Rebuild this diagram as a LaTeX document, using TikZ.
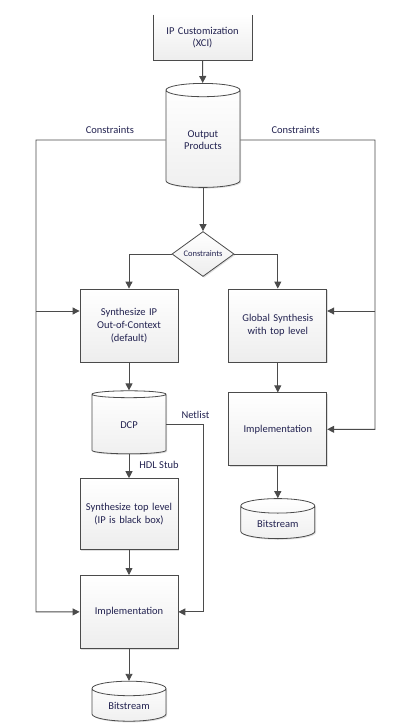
\documentclass[tikz,border=0pt]{standalone}
\usepackage{fontspec}
\setmainfont{Carlito}
\usetikzlibrary{arrows.meta, positioning, shapes.geometric, shadows}
\definecolor{txtblue}{RGB}{34,34,80}
\definecolor{edgegray}{RGB}{75,75,75}

\begin{document}
\begin{tikzpicture}[x=1pt, y=-1pt,
    font=\fontsize{10.5}{12.7}\selectfont, text=txtblue,
    process/.style={rectangle, draw=edgegray, line width=0.8pt,
                    top color=white, bottom color=gray!14,
                    minimum width=98pt, minimum height=73pt,
                    text width=92pt, align=center, inner sep=2pt,
                    drop shadow={opacity=0.25, shadow xshift=1.2pt, shadow yshift=-1.2pt}},
    store/.style={cylinder, shape border rotate=90, aspect=0.32,
                  draw=edgegray, line width=0.8pt,
                  top color=white, bottom color=gray!12,
                  minimum width=74pt, align=center, inner sep=2pt,
                  drop shadow={opacity=0.25, shadow xshift=1.2pt, shadow yshift=-1.2pt}},
    decision/.style={diamond, draw=edgegray, line width=0.8pt,
                     top color=white, bottom color=gray!14,
                     minimum width=62pt, minimum height=45pt, aspect=1.38,
                     inner sep=0pt, font=\fontsize{8.5}{10}\selectfont,
                     drop shadow={opacity=0.25, shadow xshift=1.2pt, shadow yshift=-1.2pt}},
    flow/.style={-{Triangle[length=7pt, width=7pt]}, draw=edgegray, line width=0.9pt},
    lbl/.style={inner sep=0pt}
]
\useasboundingbox (0,0) rectangle (409,723);

% Define nodes
\node[process, draw=none, minimum height=45pt] (ipc) at (202.5,37.5) {IP Customization\\(XCI)};
\draw[edgegray, line width=0.8pt] (ipc.north west) -- (ipc.south west) -- (ipc.south east) -- (ipc.north east);
\node[store, minimum height=104pt] (out) at (203,140) {Output\\Products};
\node[decision] (dia) at (203,254) {Constraints};

\node[process] (sip) at (129,325.5) {Synthesize IP\\Out-of-Context\\(default)};
\node[process, right=50pt of sip] (gs) {Global Synthesis\\with top level};
\node[process, below=30pt of gs] (impr) {Implementation};
\node[store, minimum height=40pt, below=32pt of impr] (bitr) {Bitstream};

\node[store, minimum height=63pt, below=28pt of sip] (dcp) {DCP};
\node[process, minimum height=71pt, below=24pt of dcp] (stl) {Synthesize top level\\(IP is black box)};
\node[process, below=25pt of stl] (impl) {Implementation};
\node[store, minimum height=40pt, below=32pt of impl] (bitl) {Bitstream};

% Side rails
\coordinate (lft) at (36,140);
\coordinate (rgt) at (375,140);
\coordinate (sipin) at ([yshift=14.5pt]sip.west);
\coordinate (gsin) at ([yshift=14.5pt]gs.east);

% Relations
\draw[flow] (ipc) -- (out);
\draw[flow] (out) -- (dia);
\draw[flow] (dia.west) -| (sip.north);
\draw[flow] (dia.east) -| (gs.north);
\draw[flow] (out.west) -- node[lbl, pos=0.43, above=6pt] {Constraints} (lft) |- (impl.west);
\draw[flow] (lft |- sipin) -- (sipin);
\draw[flow] (out.east) -- node[lbl, pos=0.41, above=6pt] {Constraints} (rgt) |- (impr.east);
\draw[flow] (rgt |- gsin) -- (gsin);
\draw[flow] (sip) -- (dcp);
\draw[flow] (dcp) -- node[lbl, pos=0.45, right=10pt] {HDL Stub} (stl);
\draw[flow] (dcp.east) -- ++(37,0) coordinate (netc) |- (impl.east);
\node[lbl, xshift=-8pt, yshift=10pt] at (netc) {Netlist};
\draw[flow] (stl) -- (impl);
\draw[flow] (impl) -- (bitl);
\draw[flow] (gs) -- (impr);
\draw[flow] (impr) -- (bitr);

\end{tikzpicture}
\end{document}
